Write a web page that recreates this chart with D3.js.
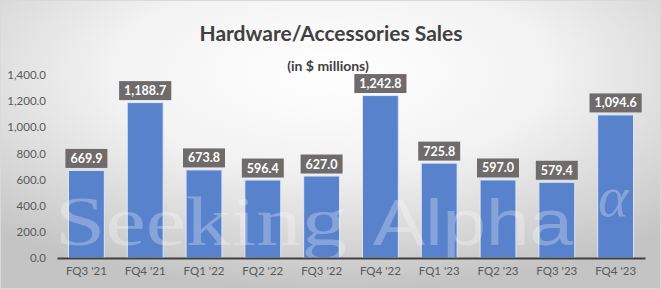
<!DOCTYPE html>
<html>
<head>
<meta charset="utf-8">
<script src="https://cdn.jsdelivr.net/npm/d3@7"></script>
<style>
  body { margin: 0; background: #fff; }
  svg { display: block; }
</style>
</head>
<body>
<svg id="chart"></svg>
<script>
var width = 661;
var height = 289;

// data
var quarters = ["FQ3 '21", "FQ4 '21", "FQ1 '22", "FQ2 '22", "FQ3 '22", "FQ4 '22", "FQ1 '23", "FQ2 '23", "FQ3 '23", "FQ4 '23"];
var sales = [669.9, 1188.7, 673.8, 596.4, 627.0, 1242.8, 725.8, 597.0, 579.4, 1094.6];
var yTicks = [0, 200, 400, 600, 800, 1000, 1200, 1400];

var fmt = d3.format(",.1f");

var svg = d3.select("#chart").attr("width", width).attr("height", height);

var defs = svg.append("defs");
var grad = defs.append("radialGradient")
  .attr("id", "bg")
  .attr("cx", "50%").attr("cy", "25%").attr("r", "75%")
  .attr("gradientUnits", "objectBoundingBox");
grad.append("stop").attr("offset", "0%").attr("stop-color", "#ffffff");
grad.append("stop").attr("offset", "45%").attr("stop-color", "#f2f2f2");
grad.append("stop").attr("offset", "100%").attr("stop-color", "#c4c4c4");

svg.append("rect")
  .attr("x", 0.5).attr("y", 0.5)
  .attr("width", width - 1).attr("height", height - 1)
  .attr("fill", "url(#bg)")
  .attr("stroke", "#d9d9d9");

var margin = {left: 57, right: 16, top: 75, bottom: 31};

var x = d3.scaleBand()
  .domain(quarters)
  .range([margin.left, width - margin.right])
  .paddingInner(0.39)
  .paddingOuter(0.195);

var y = d3.scaleLinear()
  .domain([0, 1400])
  .range([height - margin.bottom, margin.top]);

// title
svg.append("text")
  .attr("x", 331).attr("y", 41)
  .attr("text-anchor", "middle")
  .style("font-family", "Lato, 'Open Sans', sans-serif")
  .style("font-weight", "bold")
  .style("font-size", "21px")
  .style("fill", "#404040")
  .text("Hardware/Accessories Sales");

svg.append("text")
  .attr("x", 328).attr("y", 71)
  .attr("text-anchor", "middle")
  .style("font-family", "Lato, 'Open Sans', sans-serif")
  .style("font-weight", "bold")
  .style("font-size", "14px")
  .style("fill", "#404040")
  .text("(in $ millions)");

// y axis labels
var yAxis = d3.axisLeft(y)
  .tickValues(yTicks)
  .tickFormat(fmt)
  .tickSize(0)
  .tickPadding(0);

var yg = svg.append("g")
  .attr("transform", "translate(46,0)")
  .call(yAxis);
yg.select(".domain").remove();
yg.selectAll("text")
  .style("font-family", "Lato, 'Open Sans', sans-serif")
  .style("font-size", "11.5px")
  .style("fill", "#595959");

// bars
svg.append("g")
  .selectAll("rect")
  .data(sales)
  .enter()
  .append("rect")
  .attr("x", function(d, i) { return x(quarters[i]); })
  .attr("y", function(d) { return y(d); })
  .attr("width", x.bandwidth())
  .attr("height", function(d) { return y(0) - y(d); })
  .attr("fill", "#5882cb")
  .attr("stroke", "#dde6f5")
  .attr("stroke-width", 1);

// watermark
var wm = svg.append("g")
  .style("fill", "#ffffff")
  .style("fill-opacity", 0.28)
  .style("pointer-events", "none");
wm.append("text")
  .attr("x", 55).attr("y", 245)
  .attr("textLength", 292)
  .attr("lengthAdjust", "spacingAndGlyphs")
  .style("font-family", "'Liberation Serif', 'DejaVu Serif', serif")
  .style("font-size", "69px")
  .text("Seeking");
wm.append("text")
  .attr("x", 373).attr("y", 245)
  .attr("textLength", 200)
  .attr("lengthAdjust", "spacingAndGlyphs")
  .style("font-family", "'Liberation Sans', Arial, sans-serif")
  .style("font-size", "64px")
  .text("Alpha");
wm.append("text")
  .attr("x", 598).attr("y", 216)
  .style("font-family", "'Liberation Serif', 'DejaVu Serif', serif")
  .style("font-style", "italic")
  .style("font-size", "58px")
  .text("\u03b1");

// x axis
var xAxis = d3.axisBottom(x).tickSize(0).tickPadding(9);
var xg = svg.append("g")
  .attr("transform", "translate(0," + y(0) + ")")
  .call(xAxis);
xg.select(".domain")
  .attr("stroke", "#404040")
  .attr("stroke-width", 2);
xg.selectAll("text")
  .style("font-family", "Lato, 'Open Sans', sans-serif")
  .style("font-size", "11.5px")
  .style("fill", "#595959");

// value labels
var labels = svg.append("g")
  .selectAll("g")
  .data(sales)
  .enter()
  .append("g")
  .attr("transform", function(d, i) {
    return "translate(" + (x(quarters[i]) + x.bandwidth() / 2) + "," + (y(d) - 12) + ")";
  });

labels.append("text")
  .attr("text-anchor", "middle")
  .attr("dy", "0.36em")
  .style("font-family", "Lato, 'Open Sans', sans-serif")
  .style("font-weight", "bold")
  .style("font-size", "12.5px")
  .style("fill", "#ffffff")
  .text(function(d) { return fmt(d); });

labels.each(function() {
  var g = d3.select(this);
  var b = g.select("text").node().getBBox();
  g.insert("rect", "text")
    .attr("x", b.x - 5)
    .attr("y", -9.5)
    .attr("width", b.width + 10)
    .attr("height", 19)
    .attr("fill", "#6f6b6b");
});
</script>
</body>
</html>
